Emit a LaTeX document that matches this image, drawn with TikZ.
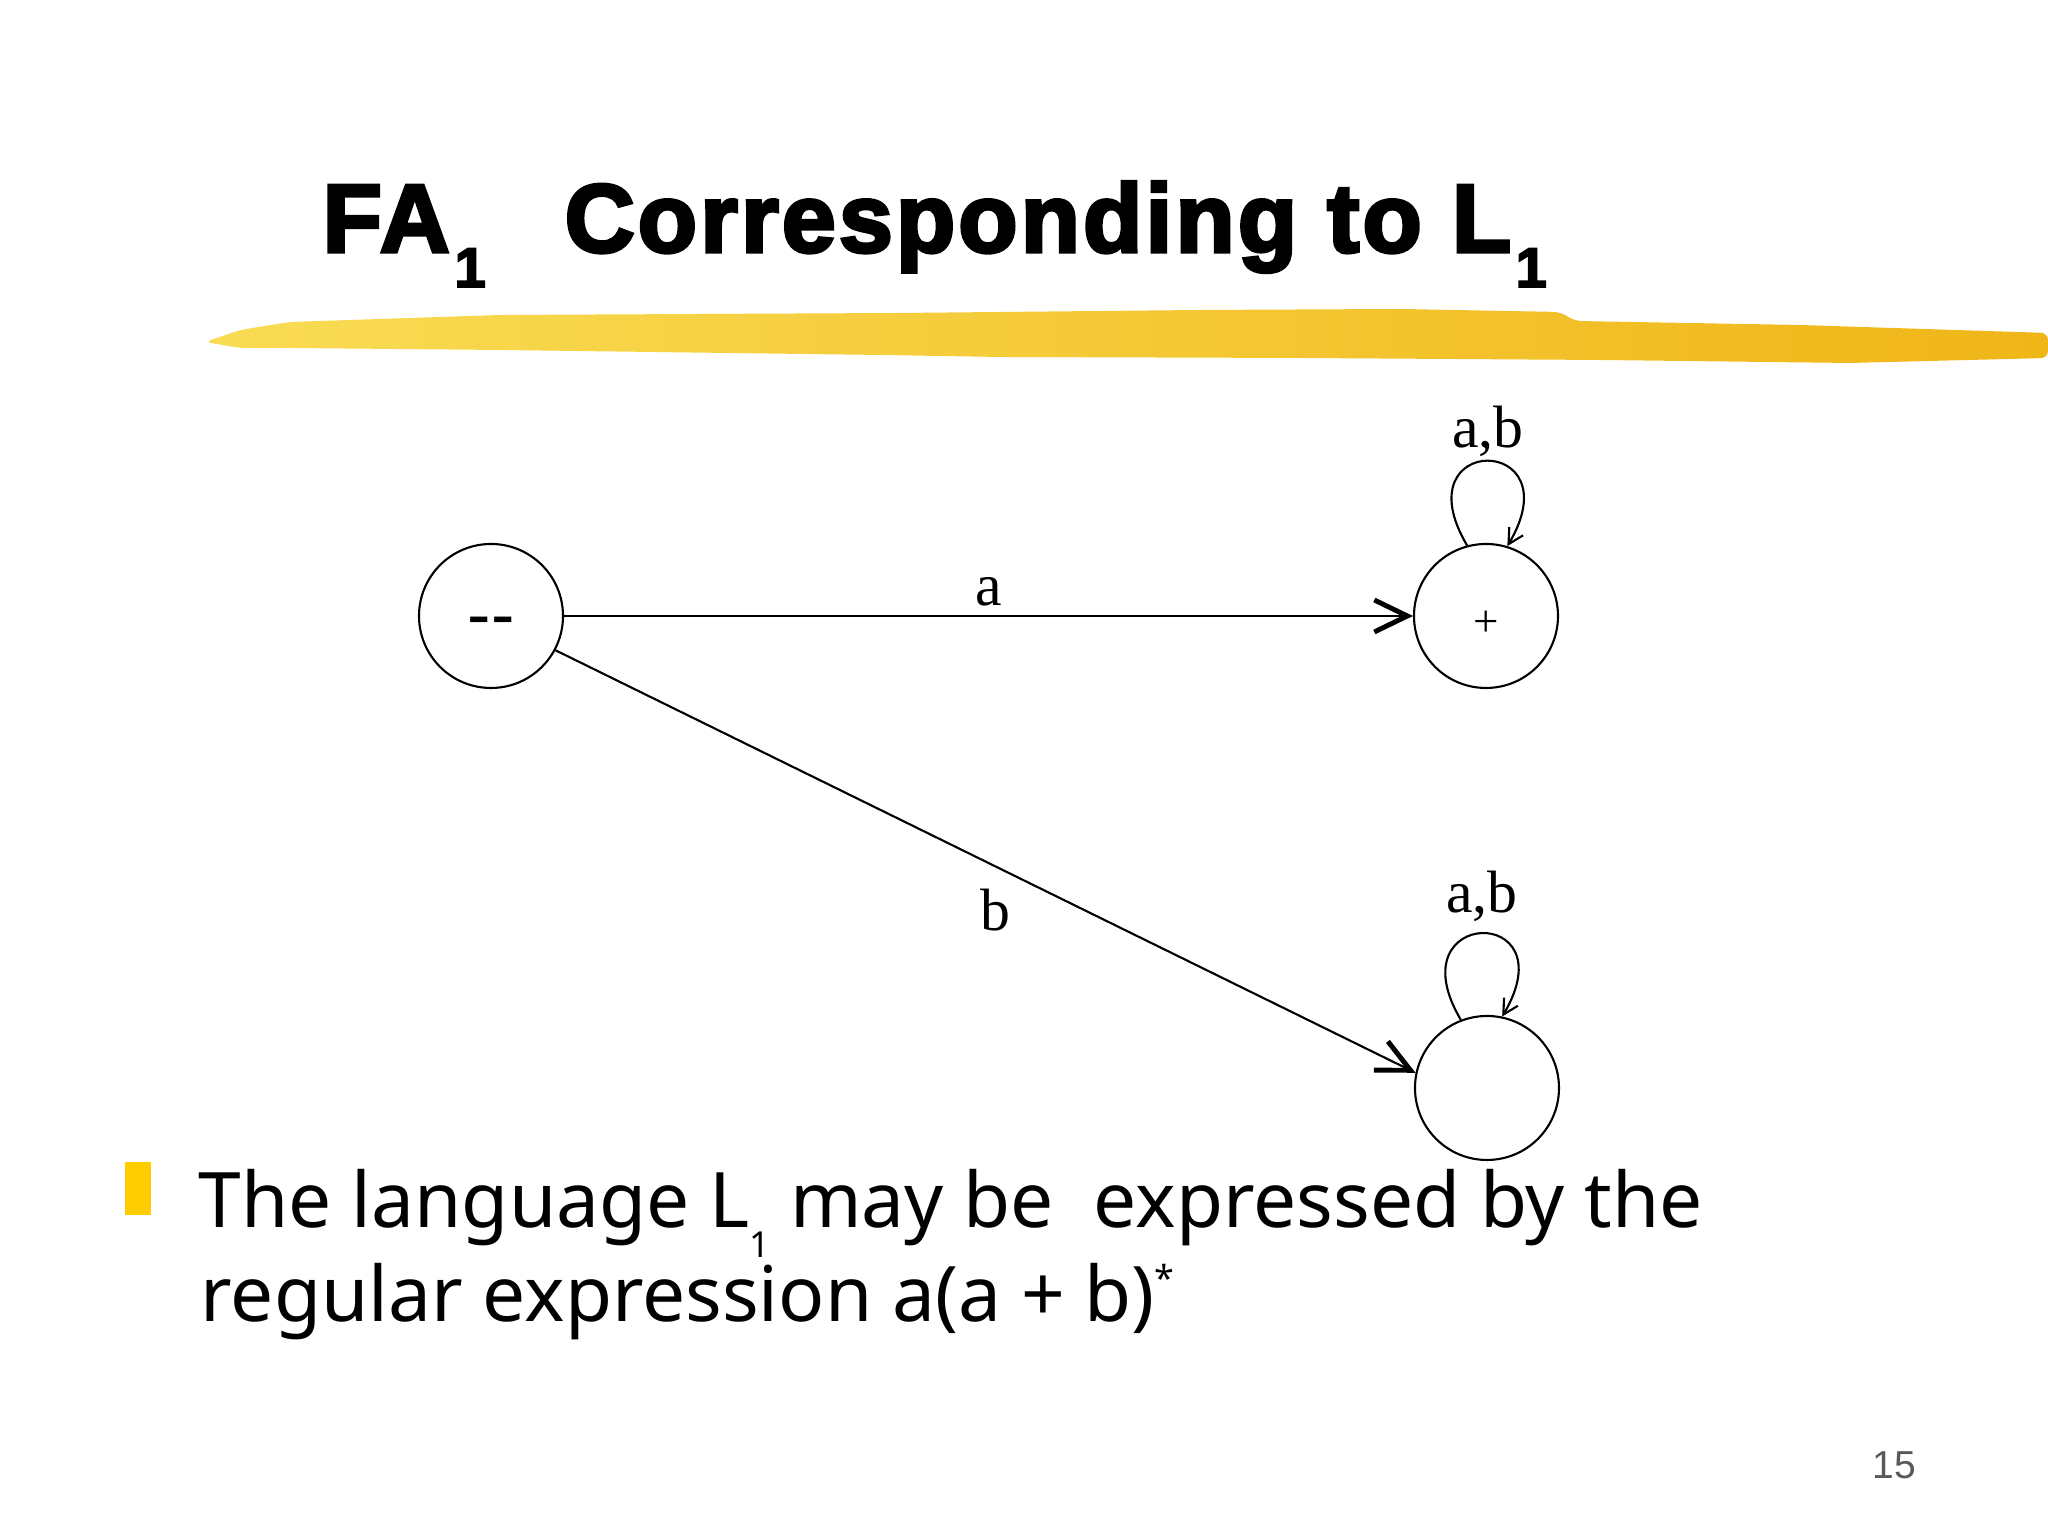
\documentclass[tikz,border=0pt]{standalone}
\usepackage{fontspec}
\setmainfont{Liberation Serif}
\newfontfamily\titlefont{Liberation Sans}[BoldFeatures={FakeBold=3.5,LetterSpace=3.2}]
\newfontfamily\bodyfont{Noto Sans}
\newfontfamily\numfont{Liberation Sans}
\usetikzlibrary{arrows.meta}

\begin{document}
\begin{tikzpicture}[
    fa_state/.style={shape=circle,draw,line width=0.6pt,minimum size=1.44cm,inner sep=0pt},
    fa_lbl/.style={font=\fontsize{17}{20}\selectfont},
    fa_edge/.style={line width=0.6pt,-{Straight Barb[length=0.33cm,width=0.32cm,line width=1.4pt]}},
    fa_loop/.style={line width=0.6pt,-{Straight Barb[length=0.15cm,width=0.16cm]}},
    fa_text/.style={anchor=base west,inner sep=0pt}
  ]
    \definecolor{fa_brushA}{RGB}{249,220,84}
    \definecolor{fa_brushB}{RGB}{240,182,24}
    \definecolor{fa_bullet}{RGB}{255,204,0}
    \definecolor{fa_pagenum}{RGB}{89,89,89}
    \useasboundingbox (0,0) rectangle (20.48,15.36);

    % brush stroke under the title
    \shade[left color=fa_brushA,right color=fa_brushB,rounded corners=2pt]
      (2.05,11.94) -- (2.40,12.06) -- (2.90,12.14) -- (5.00,12.21) -- (9.00,12.23) -- (12.00,12.26)
      -- (14.00,12.27) -- (15.60,12.24) -- (15.75,12.15) -- (18.00,12.11) -- (20.48,12.03)
      -- (20.48,11.78) -- (18.50,11.73) -- (16.00,11.76) -- (13.00,11.78) -- (10.00,11.79)
      -- (8.80,11.81) -- (5.00,11.86) -- (2.90,11.88) -- (2.40,11.88) -- cycle;

    % title
    \node[fa_text,font=\titlefont\bfseries\fontsize{27.6}{30}\selectfont] (title) at (3.22,12.84) {FA};
    \node[fa_text,font=\titlefont\bfseries\fontsize{15.9}{18}\selectfont] (titlesub) at (4.54,12.49) {1};
    \node[fa_text,font=\titlefont\bfseries\fontsize{27.6}{30}\selectfont] (titlerest) at (5.64,12.84) {Corresponding to L};
    \node[fa_text,font=\titlefont\bfseries\fontsize{15.9}{18}\selectfont] (titlerestsub) at (15.15,12.49) {1};

    % states
    \node[fa_state,font=\numfont\fontsize{20}{22}\selectfont] (s0) at (4.91,9.20) {\raisebox{-0.12cm}[\height][0pt]{-{}-}};
    \node[fa_state,font=\fontsize{12.8}{15}\selectfont] (s1) at (14.86,9.20) {\raisebox{-0.08cm}[\height][0pt]{+}};
    \node[fa_state] (s2) at (14.87,4.48) {};

    % transitions
    \draw[fa_edge] (s0) -- node[fa_lbl,above,inner sep=2.5pt] (la) {a} (s1);
    \draw[fa_edge] (s0.-28) -- node[fa_lbl,below=5pt,xshift=0.1cm,inner sep=2.5pt] (lb) {b} (s2.168);
    \draw[fa_loop] (s1.105) .. controls +(-0.67,1.13) and +(0.67,1.13) .. (s1.73);
    \draw[fa_loop] (s2.111) .. controls +(-0.67,1.13) and +(0.67,1.13) .. (s2.78);
    \node[fa_lbl,anchor=base,inner sep=0pt] (lab1) at (14.88,10.88) {a,b};
    \node[fa_lbl,anchor=base,inner sep=0pt] (lab2) at (14.82,6.23) {a,b};

    % bullet
    \fill[fa_bullet] (1.25,3.21) rectangle (1.51,3.74);
    \node[fa_text,font=\bodyfont\fontsize{21.8}{26}\selectfont] (line1) at (1.98,3.08)
      {The language L\raisebox{-0.3cm}{\fontsize{10.2}{12}\selectfont 1} may be\ \ expressed by the};
    \node[fa_text,font=\bodyfont\fontsize{21.8}{26}\selectfont] (line2) at (2.00,2.14)
      {regular expression a(a + b)\raisebox{0.3cm}{\fontsize{10.2}{12}\selectfont *}};

    \node[fa_text,font=\numfont\fontsize{11.1}{13}\selectfont,text=fa_pagenum] (pagenum) at (18.72,0.57) {15};
\end{tikzpicture}
\end{document}
